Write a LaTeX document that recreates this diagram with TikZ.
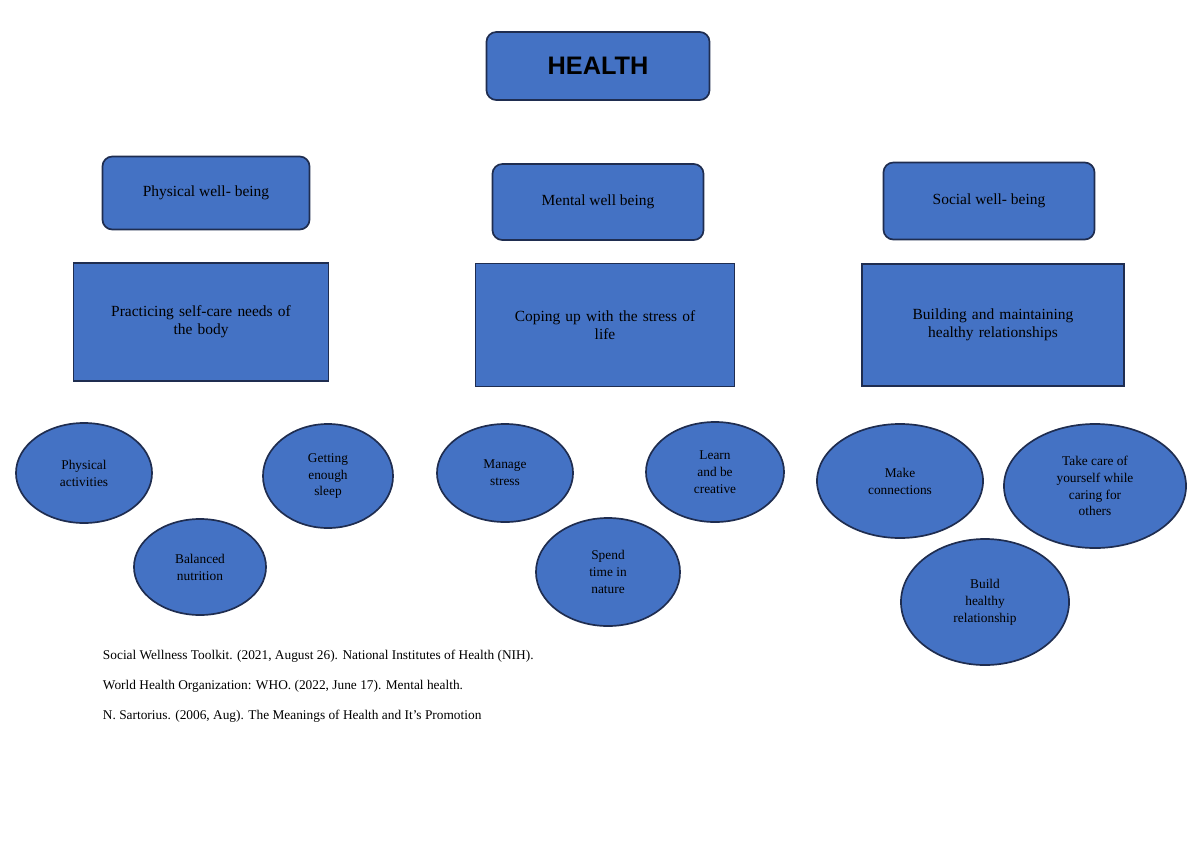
\documentclass[tikz,border=0pt]{standalone}
\usepackage{fontspec}
\setmainfont{Liberation Serif}
\newfontfamily\headfont{Liberation Sans}
\usetikzlibrary{positioning}
\usetikzlibrary{shapes}
\definecolor{boxblue}{RGB}{68,114,196}
\definecolor{boxline}{RGB}{31,45,80}
\tikzset{
  topbox/.style={draw=boxline, line width=1.2pt, fill=boxblue, rounded corners=7pt, align=center, font=\fontsize{11}{13}\selectfont},
  areabox/.style={draw=boxline, line width=1.2pt, fill=boxblue, align=center, text width=6cm, font=\fontsize{11}{13}\selectfont},
  tipblob/.style={draw=boxline, line width=1.2pt, fill=boxblue, ellipse, inner sep=0pt, align=center, font=\fontsize{9.5}{12}\selectfont},
  refline/.style={anchor=west, font=\fontsize{9.5}{11}\selectfont}
}
\begin{document}
\begin{tikzpicture}[x=0.025cm, y=-0.025cm]
        \useasboundingbox (0,0) rectangle (1200,849);
        % nodes %
        \node[topbox, minimum width=5.575cm, minimum height=1.7cm, font=\headfont\bfseries\fontsize{18}{20}\selectfont] (health) at (598,66) {HEALTH};
        \node[topbox, minimum width=5.175cm, minimum height=1.825cm] (phys) at (206,193) {Physical well- being};
        \node[topbox, minimum width=5.275cm, minimum height=1.9cm] (ment) at (598,202) {Mental well being};
        \node[topbox, minimum width=5.275cm, minimum height=1.925cm] (soc) at (989,201) {Social well- being};
        \node[areabox, minimum width=6.375cm, minimum height=2.95cm] (physarea) at (201,322) {Practicing self-care needs of\\the body};
        \node[areabox, minimum width=6.475cm, minimum height=3.075cm] (mentarea) at (605,325) {Coping up with the stress of\\life};
        \node[areabox, minimum width=6.55cm, minimum height=3.05cm] (socarea) at (993,325) {Building and maintaining\\healthy relationships};
        % ellipses %
        \node[tipblob, minimum width=3.4cm, minimum height=2.5cm] (activ) at (84,473) {Physical\\activities};
        \node[tipblob, minimum width=3.25cm, minimum height=2.6cm] (sleep) at (328,476) {Getting\\enough\\sleep};
        \node[tipblob, minimum width=3.3cm, minimum height=2.4cm] (nutri) at (200,567) {Balanced\\nutrition};
        \node[tipblob, minimum width=3.4cm, minimum height=2.45cm] (stress) at (505,473) {Manage\\stress};
        \node[tipblob, minimum width=3.45cm, minimum height=2.5cm] (learn) at (715,472) {Learn\\and be\\creative};
        \node[tipblob, minimum width=3.6cm, minimum height=2.7cm] (nature) at (608,572) {Spend\\time in\\nature};
        \node[tipblob, minimum width=4.15cm, minimum height=2.85cm] (connect) at (900,481) {Make\\connections};
        \node[tipblob, minimum width=4.55cm, minimum height=3.1cm] (care) at (1095,486) {Take care of\\yourself while\\caring for\\others};
        \node[tipblob, minimum width=4.2cm, minimum height=3.15cm] (build) at (985,602) {Build\\healthy\\relationship};
        % references %
        \node[refline] (ref1) at (98,656) {Social Wellness Toolkit. (2021, August 26). National Institutes of Health (NIH).};
        \node[refline] (ref2) at (98,686) {World Health Organization: WHO. (2022, June 17). Mental health.};
        \node[refline] (ref3) at (98,716) {N. Sartorius. (2006, Aug). The Meanings of Health and It's Promotion};
\end{tikzpicture}
\end{document}
